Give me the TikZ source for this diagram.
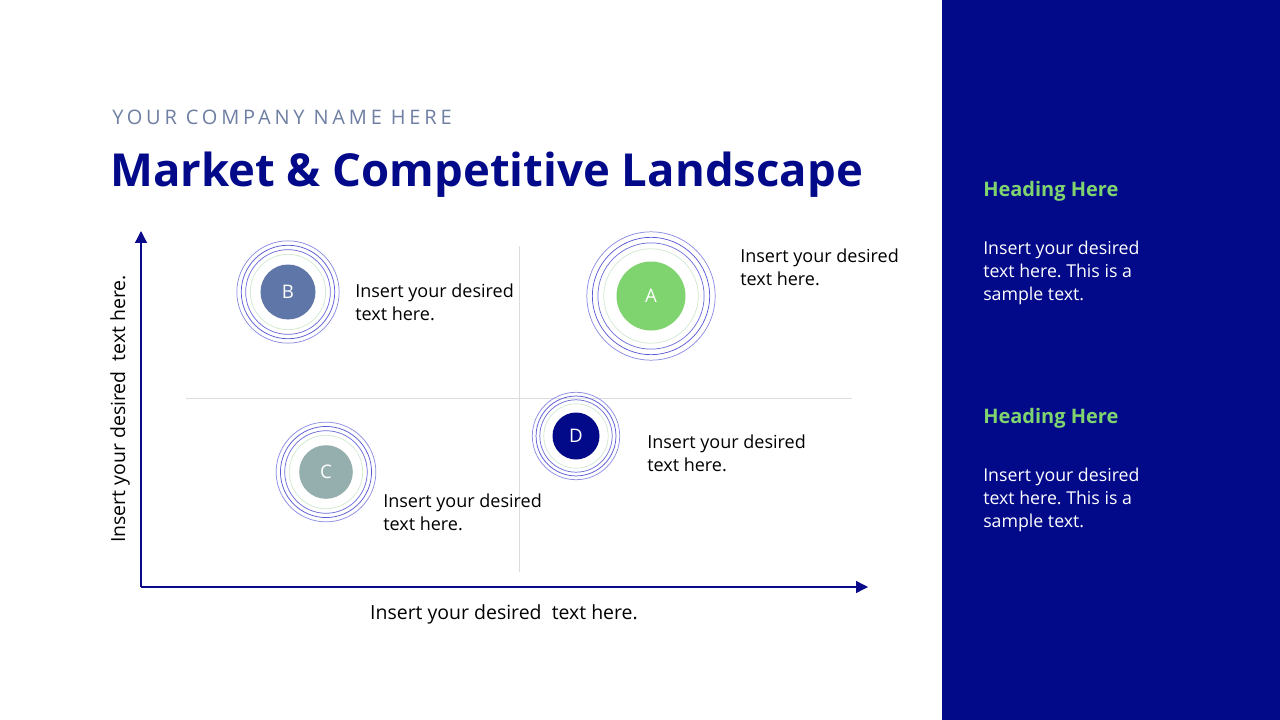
\documentclass[tikz,border=0pt]{standalone}
\usepackage{fontspec}
\setmainfont{Open Sans}
\usetikzlibrary{arrows.meta}
\frenchspacing
\definecolor{navy}{HTML}{020A8A}
\definecolor{axisblue}{HTML}{0A0A8A}
\definecolor{subgray}{HTML}{6E7FA3}
\definecolor{green1}{HTML}{7FD46F}
\definecolor{bfill}{HTML}{5F77A8}
\definecolor{cfill}{HTML}{95AFAE}
\definecolor{ringA}{HTML}{8C8CE4}
\definecolor{ringB}{HTML}{5A5AD4}
\definecolor{ringC}{HTML}{6E6ED8}
\definecolor{ringG}{HTML}{D2EAD2}
\definecolor{gridgray}{HTML}{DCDCDC}
\tikzset{
  body/.style={font=\fontsize{13.5}{17.25}\selectfont, text=black, align=left, anchor=west, inner sep=0pt},
  sidetext/.style={font=\fontsize{13.3}{17.25}\selectfont, text=white, align=left, anchor=west, inner sep=0pt},
  sidehead/.style={font=\bfseries\fontsize{15}{17}\selectfont, text=green1, anchor=west, inner sep=0pt},
  bubble/.style={circle, inner sep=0pt, text=white, font=\fontsize{14}{16}\selectfont},
  gridline/.style={draw=gridgray, line width=0.6pt},
  axis/.style={draw=axisblue, line width=1pt, -{Triangle[length=9pt,width=9pt]}},
  axislabel/.style={inner sep=0pt, font=\fontsize{14.6}{16}\selectfont},
}
\newcommand{\rings}[3]{% center, fill radius (px)
  \draw[ringA, line width=0.55pt] (#1) circle[radius=#2*1.86];
  \draw[ringB, line width=0.55pt] (#1) circle[radius=#2*1.70];
  \draw[ringC, line width=0.55pt] (#1) circle[radius=#2*1.54];
  \draw[ringG, line width=0.55pt] (#1) circle[radius=#2*1.37];
}
\begin{document}
\begin{tikzpicture}[x=0.75pt,y=-0.75pt]
\useasboundingbox (0,0) rectangle (1280,720);
\fill[white] (0,0) rectangle (1280,720);
\fill[navy] (942,0) rectangle (1280,720);

% header
\node[anchor=west, inner sep=0pt, text=subgray, font=\fontsize{15}{17}\selectfont] (company) at (112,117) {\addfontfeature{LetterSpace=19}YOUR COMPANY NAME HERE};
\node[anchor=west, inner sep=0pt, text=navy, font=\bfseries\fontsize{34.1}{39}\selectfont] (title) at (110,175) {Market \& Competitive Landscape};

% grid
\coordinate (gv1) at (519,246); \coordinate (gv2) at (519,572);
\coordinate (gh1) at (186,398); \coordinate (gh2) at (852,398);
\draw[gridline] (gv1) -- (gv2);
\draw[gridline] (gh1) -- (gh2);

% axes
\coordinate (origin) at (141,587);
\coordinate (ytop) at (141,231);
\coordinate (xend) at (868,587);
\draw[axis] (origin) -- (ytop);
\draw[axis] (origin) -- (xend);

\node[axislabel] (xlabel) at (504,614) {Insert your desired\ \ text here.};
\node[axislabel, rotate=90] (ylabel) at (120,409) {Insert your desired\ \ text here.};

% bubbles
\coordinate (cB) at (288,292);
\coordinate (cA) at (651,296);
\coordinate (cC) at (326,472);
\coordinate (cD) at (576,436);
\rings{cB}{27.5}{}
\rings{cA}{34.5}{}
\rings{cC}{26.8}{}
\rings{cD}{23.5}{}
\node[bubble, fill=bfill, minimum size=55*0.75pt] (B) at (cB) {B};
\node[bubble, fill=green1, minimum size=69*0.75pt] (A) at (cA) {A};
\node[bubble, fill=cfill, minimum size=53.6*0.75pt] (C) at (cC) {C};
\node[bubble, fill=navy, minimum size=47*0.75pt] (D) at (cD) {D};

\node[body] (tB) at (355,302.5) {Insert your desired\\text here.};
\node[body] (tA) at (740,267.5) {Insert your desired\\text here.};
\node[body] (tD) at (647,453.5) {Insert your desired\\text here.};
\node[body] (tC) at (383,512.5) {Insert your desired\\text here.};

% side panel
\node[sidehead] (h1) at (983,191) {Heading Here};
\node[sidetext] (s1) at (983,273) {Insert your desired\\text here. This is a\\sample text.};
\node[sidehead] (h2) at (983,418) {Heading Here};
\node[sidetext] (s2) at (983,500) {Insert your desired\\text here. This is a\\sample text.};
\end{tikzpicture}
\end{document}
